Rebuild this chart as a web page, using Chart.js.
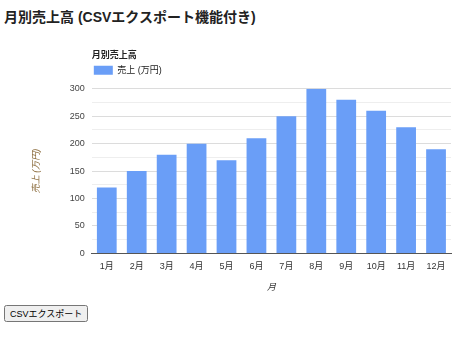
<!DOCTYPE html>
<html><head><meta charset="utf-8">
<script src="https://cdn.jsdelivr.net/npm/chart.js@4"></script>
<style>
body{margin:0;font-family:"Liberation Sans","Noto Sans CJK JP",sans-serif;background:#fff;}
h2{margin:0;position:absolute;left:4px;top:6px;font-size:14px;font-weight:bold;color:#222;}
#wrap{position:absolute;left:0;top:40px;width:474px;height:260px;}
button{position:absolute;left:4px;top:305px;height:17px;font-size:9px;padding:0 4px;font-family:"Liberation Sans","Noto Sans CJK JP",sans-serif;}
</style></head><body>
<h2>月別売上高 (CSVエクスポート機能付き)</h2>
<div id="wrap"><canvas id="c"></canvas></div>
<button>CSVエクスポート</button>
<script>
const categories=["1月","2月","3月","4月","5月","6月","7月","8月","9月","10月","11月","12月"];
const sales=[120,150,180,200,170,210,250,300,280,260,230,190];
const seriesName="売上 (万円)";
const chartTitle="月別売上高";
const F='"Liberation Sans","Noto Sans CJK JP",sans-serif';
const legendSpacer={id:'legendSpacer',afterInit(chart){const l=chart.legend;const f=l.fit;l.fit=function(){f.call(this);this.height+=4;};}};
new Chart(document.getElementById('c'),{
 type:'bar',
 data:{labels:categories,datasets:[{label:seriesName,data:sales,backgroundColor:'#6a9ef7',barPercentage:0.66,categoryPercentage:1}]},
 plugins:[legendSpacer],
 options:{responsive:true,maintainAspectRatio:false,animation:false,
  layout:{padding:{left:27,right:23,top:4,bottom:3}},
  plugins:{
   legend:{position:'top',align:'start',fullSize:false,
    title:{display:true,text:chartTitle,position:'start',color:'#222',font:{family:F,size:9,weight:'bold'},padding:{top:7,bottom:2}},
    labels:{boxWidth:19,boxHeight:9,color:'#222',font:{family:F,size:9},padding:2}},
   tooltip:{enabled:false}},
  scales:{
   x:{grid:{display:false},border:{display:true,color:'#555',width:1},
      ticks:{color:'#333',font:{family:F,size:9},padding:0,maxRotation:0},
      title:{display:true,text:'月',color:'#333',font:{family:F,size:9,style:'italic'},padding:{top:10}}},
   y:{min:0,max:300,border:{display:false},
      grid:{color:(c)=>c.tick&&c.tick.value%50===0?'#dcdcdc':'#eeeeee',drawTicks:false},
      ticks:{stepSize:25,autoSkip:false,color:'#444',font:{family:F,size:9},padding:7,
       callback:(v)=>v%50===0?v:''},
      title:{display:true,text:seriesName,color:'#8a6a3a',font:{family:F,size:9,style:'italic'},padding:{bottom:21}}}
  }}
});
</script></body></html>
